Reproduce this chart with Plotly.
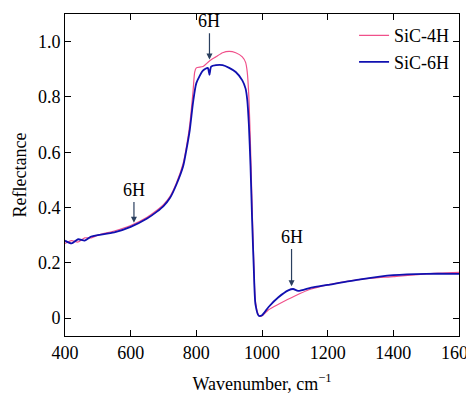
import plotly.graph_objects as go

wn4 = [400,420,440,460,480,500,550,600,650,680,700,720,740,760,770,780,790,795,800,820,840,860,880,900,920,940,950,955,960,965,970,975,980,990,1000,1020,1050,1100,1150,1200,1300,1400,1500,1600]
r4  = [0.27,0.28,0.275,0.29,0.29,0.30,0.315,0.335,0.365,0.39,0.41,0.44,0.49,0.56,0.62,0.70,0.82,0.89,0.905,0.91,0.93,0.945,0.96,0.965,0.96,0.945,0.925,0.89,0.80,0.62,0.40,0.20,0.06,0.01,0.008,0.03,0.05,0.08,0.105,0.12,0.14,0.15,0.16,0.165]
wn6 = [400,420,440,460,480,500,550,600,650,680,700,720,740,760,770,780,790,800,820,835,840,845,860,880,900,920,940,950,955,960,965,970,975,980,990,1000,1020,1050,1080,1095,1110,1150,1200,1300,1400,1500,1600]
r6  = [0.28,0.27,0.285,0.28,0.295,0.30,0.31,0.33,0.36,0.385,0.405,0.435,0.485,0.55,0.61,0.68,0.78,0.85,0.895,0.905,0.88,0.91,0.915,0.915,0.905,0.89,0.86,0.83,0.79,0.70,0.55,0.35,0.18,0.05,0.008,0.01,0.04,0.075,0.10,0.105,0.098,0.11,0.12,0.14,0.155,0.16,0.16]

FONT = "Liberation Serif, Times New Roman, serif"

fig = go.Figure()
fig.add_trace(go.Scatter(x=wn4, y=r4, mode="lines", name="SiC-4H", line=dict(color="#f0508a", width=1.2, shape="spline", smoothing=0.6)))
fig.add_trace(go.Scatter(x=wn6, y=r6, mode="lines", name="SiC-6H", line=dict(color="#1010b0", width=1.8, shape="spline", smoothing=0.6)))

for x, y, ty in [(610, 0.345, 0.42), (840, 0.935, 1.03), (1090, 0.115, 0.25)]:
    fig.add_annotation(x=x, y=y, ax=x, ay=ty, xref="x", yref="y", axref="x", ayref="y",
                       text="6H", showarrow=True, arrowhead=2, arrowsize=1, arrowwidth=1.2,
                       font=dict(family=FONT, size=18, color="black"), yanchor="bottom")

ax = dict(showline=True, linecolor="black", linewidth=1, mirror="ticks", ticks="inside",
          ticklen=6, tickcolor="black", showgrid=False, zeroline=False,
          tickfont=dict(family=FONT, size=18, color="black"))
fig.update_xaxes(range=[400, 1600], dtick=200,
                 title=dict(text="Wavenumber, cm<sup>−1</sup>", font=dict(family=FONT, size=18, color="black")), **ax)
fig.update_yaxes(range=[-0.065, 1.1], tickvals=[0, 0.2, 0.4, 0.6, 0.8, 1.0], ticktext=["0", "0.2", "0.4", "0.6", "0.8", "1.0"],
                 title=dict(text="Reflectance", font=dict(family=FONT, size=18, color="black"), standoff=6), **ax)
fig.update_layout(width=474, height=409, margin=dict(l=57, r=18, t=5, b=81),
                  plot_bgcolor="white", paper_bgcolor="white",
                  font=dict(family=FONT, color="black", size=18),
                  legend=dict(x=0.99, y=0.99, xanchor="right", yanchor="top",
                              font=dict(family=FONT, size=18, color="black"), bgcolor="rgba(0,0,0,0)"))
fig.write_html("out.html")
